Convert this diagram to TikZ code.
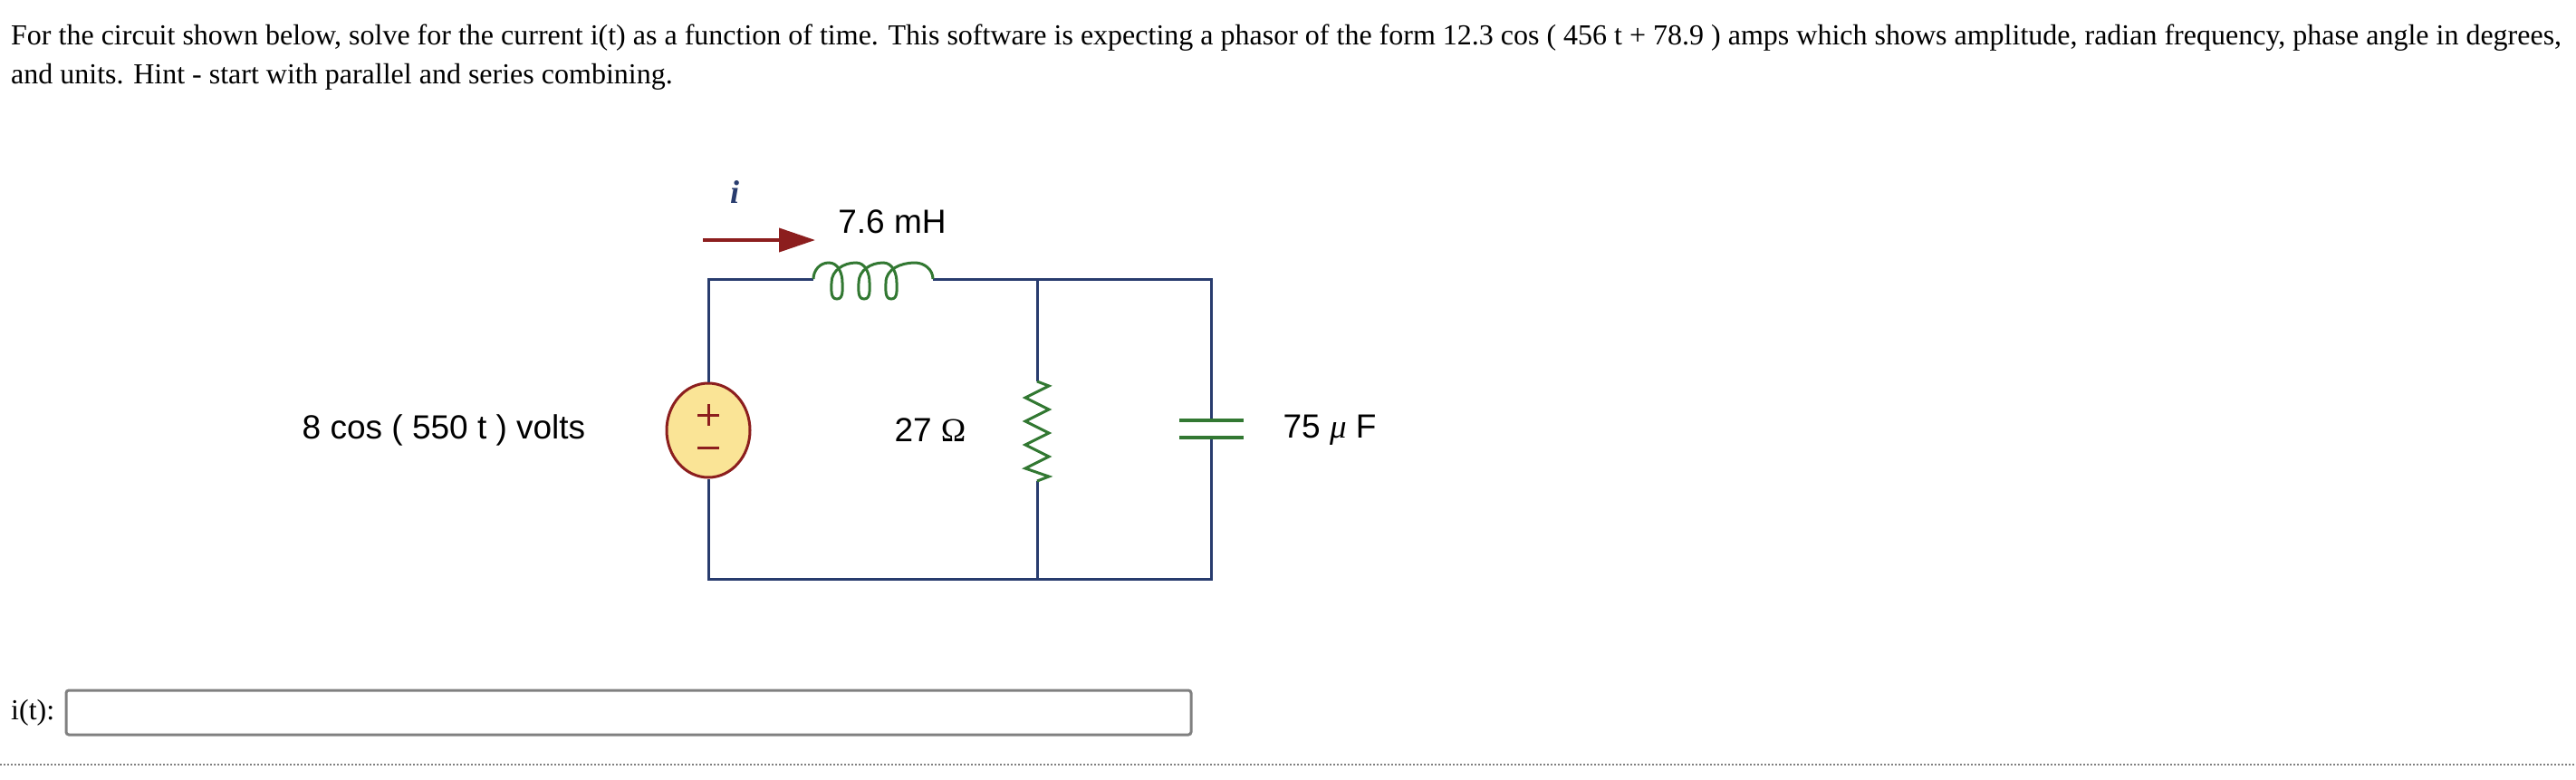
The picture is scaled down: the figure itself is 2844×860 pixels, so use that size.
\documentclass[tikz,border=0pt]{standalone}
\usepackage{fontspec}
\setmainfont{Liberation Serif}
\newfontfamily\arial{Liberation Sans}
\newfontfamily\tms{Liberation Serif}
\usetikzlibrary{shapes.geometric,arrows.meta}
\definecolor{wire}{RGB}{40,60,110}
\definecolor{comp}{RGB}{50,120,50}
\definecolor{arr}{RGB}{140,30,30}
\definecolor{srcfill}{RGB}{250,228,150}
\tikzset{w/.style={wire,line width=3pt},
 lab/.style={font=\arial\fontsize{37}{42}\selectfont,inner sep=0},
 txt/.style={font=\fontsize{32}{38}\selectfont,inner sep=0,anchor=west}}
\begin{document}
\begin{tikzpicture}[x=1pt,y=-1pt]
\useasboundingbox[fill=white] (0,0) rectangle (2844,860);
\node[txt] (l1) at (12,42) {For the circuit shown below, solve for the current i(t) as a function of time. This software is expecting a phasor of the form 12.3 cos ( 456 t + 78.9 ) amps which shows amplitude, radian frequency, phase angle in degrees,};
\node[txt] (l2) at (12,85) {and units. Hint - start with parallel and series combining.};
\coordinate (tl) at (782,308); \coordinate (bl) at (782,639);
\coordinate (tm) at (1145,308); \coordinate (bm) at (1145,639);
\coordinate (tr) at (1337,308); \coordinate (br) at (1337,639);
\coordinate (la) at (898,308); \coordinate (lb) at (1030,308);
\coordinate (ra) at (1145,421); \coordinate (rb) at (1145,531);
\coordinate (ca) at (1337,464); \coordinate (cb) at (1337,483);
\node[draw=arr,fill=srcfill,line width=3pt,ellipse,minimum width=92,minimum height=104,inner sep=0] (src) at (782,475) {};
\draw[arr,line width=3pt] (770,458)--(794,458) (782,446)--(782,470) (770,494)--(794,494);
\draw[w] (src.north)--(tl)--(la) (lb)--(tm)--(tr)--(ca) (cb)--(br)--(bm)--(bl)--(src.south) (tm)--(ra) (rb)--(bm);
\draw[comp,line width=3pt] (la) to[out=90,in=180] (915,290) to[out=0,in=90] (930,312) to[out=-90,in=0] (924,330) to[out=180,in=-90] (918,312) to[out=90,in=180] (945,290) to[out=0,in=90] (960,312) to[out=-90,in=0] (954,330) to[out=180,in=-90] (948,312) to[out=90,in=180] (975,290) to[out=0,in=90] (990,312) to[out=-90,in=0] (984,330) to[out=180,in=-90] (978,312) to[out=90,in=180] (1010,290) to[out=0,in=90] (lb);
\draw[comp,line width=3pt] (ra)--(1158,426)--(1132,439)--(1158,452)--(1132,465)--(1158,478)--(1132,491)--(1158,504)--(1132,517)--(1158,526)--(rb);
\draw[comp,line width=4pt] (1302,464)--(1373,464) (1302,483)--(1373,483);
\coordinate (a0) at (776,265); \coordinate (a1) at (900,265);
\draw[arr,line width=4pt,-{Triangle[length=40,width=26]}] (a0)--(a1);
\node[font=\bfseries\itshape\fontsize{36}{40}\selectfont,text=wire] (i) at (811,212) {i};
\node[lab] (lL) at (985,245) {7.6 mH};
\node[lab] (lR) at (1027,475) {27 {\tms Ω}};
\node[lab] (lV) at (490,475) {8 cos ( 550 t ) volts};
\node[lab] (lC) at (1468,475) {75 {\tms\itshape μ} F};
\node[txt] (it) at (12,787) {i(t):};
\draw[gray,line width=3pt,rounded corners=3] (73,762) rectangle (1315,811);
\draw[gray,line width=2pt,dotted] (0,844)--(2844,844);
\end{tikzpicture}
\end{document}
